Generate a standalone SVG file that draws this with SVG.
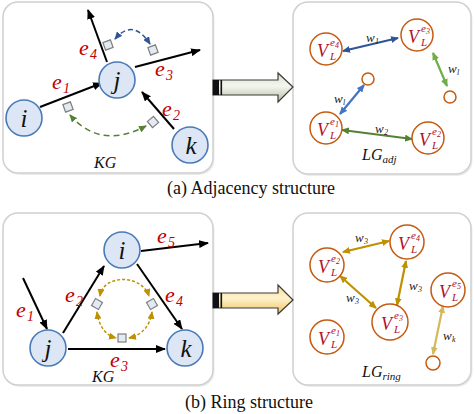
<svg xmlns="http://www.w3.org/2000/svg" width="474" height="414" viewBox="0 0 474 414">
<style>
.panel{fill:#fff;stroke:#d0d0d0;stroke-width:1.5}
.shadow{fill:#ececec;stroke:none}
.kn{fill:#dce6f4;stroke:#4a7ab8;stroke-width:1.6}
.kl{font-family:"Liberation Serif",serif;font-style:italic;font-size:25px;fill:#111;text-anchor:middle}
.edge{stroke:#000;stroke-width:2;fill:none;marker-end:url(#ab)}
.sq{fill:#e4eaf4;stroke:#7f7f7f;stroke-width:1.2}
.el{font-family:"Liberation Serif",serif;font-style:italic;font-size:22px;fill:#c00000}
.es{font-family:"Liberation Serif",serif;font-style:italic;font-size:14px;fill:#c00000}
.ln{fill:#fff;stroke:#c55a11;stroke-width:1.5}
.v{font-family:"Liberation Serif",serif;font-style:italic;font-size:18px;fill:#b0102a}
.vs{font-family:"Liberation Serif",serif;font-style:italic;font-size:11px;fill:#b0102a}
.vss{font-family:"Liberation Serif",serif;font-style:italic;font-size:8px;fill:#b0102a}
.w{font-family:"Liberation Serif",serif;font-style:italic;font-size:13px;fill:#222}
.ws{font-family:"Liberation Serif",serif;font-style:italic;font-size:8px;fill:#222}
.lab{font-family:"Liberation Serif",serif;font-style:italic;font-size:16px;fill:#111}
.cap{font-family:"Liberation Serif",serif;font-size:18px;fill:#111;text-anchor:middle}
.bigarrow{stroke:#3a3a3a;stroke-width:1.2}
</style>
<defs>
<marker id="ab" markerWidth="10" markerHeight="8" refX="9" refY="4" orient="auto" markerUnits="userSpaceOnUse"><path d="M0,0 L10,4 L0,8 Z" fill="#000"/></marker>
<marker id="mb1" markerWidth="8" markerHeight="7" refX="7" refY="3.5" orient="auto-start-reverse" markerUnits="userSpaceOnUse"><path d="M0,0 L8,3.5 L0,7 Z" fill="#2f5597"/></marker>
<marker id="mb2" markerWidth="8" markerHeight="7" refX="7" refY="3.5" orient="auto-start-reverse" markerUnits="userSpaceOnUse"><path d="M0,0 L8,3.5 L0,7 Z" fill="#4472c4"/></marker>
<marker id="mg1" markerWidth="8" markerHeight="7" refX="7" refY="3.5" orient="auto-start-reverse" markerUnits="userSpaceOnUse"><path d="M0,0 L8,3.5 L0,7 Z" fill="#548235"/></marker>
<marker id="mg2" markerWidth="8" markerHeight="7" refX="7" refY="3.5" orient="auto-start-reverse" markerUnits="userSpaceOnUse"><path d="M0,0 L8,3.5 L0,7 Z" fill="#70ad47"/></marker>
<marker id="my" markerWidth="8" markerHeight="7" refX="7" refY="3.5" orient="auto-start-reverse" markerUnits="userSpaceOnUse"><path d="M0,0 L8,3.5 L0,7 Z" fill="#bf9000"/></marker>
<marker id="my2" markerWidth="8" markerHeight="7" refX="7" refY="3.5" orient="auto-start-reverse" markerUnits="userSpaceOnUse"><path d="M0,0 L8,3.5 L0,7 Z" fill="#d4b85a"/></marker>
<linearGradient id="gg" x1="0" y1="0" x2="0" y2="1"><stop offset="0" stop-color="#d9e2cb"/><stop offset="0.45" stop-color="#f3f6ee"/><stop offset="1" stop-color="#b4c0a4"/></linearGradient>
<linearGradient id="gy" x1="0" y1="0" x2="0" y2="1"><stop offset="0" stop-color="#f8dc98"/><stop offset="0.45" stop-color="#fff2cc"/><stop offset="1" stop-color="#efc362"/></linearGradient>
</defs>

<!-- panels -->
<g id="panel-a-kg"><rect class="shadow" x="4.5" y="4" width="210" height="171" rx="15"/><rect class="panel" x="3" y="2" width="210" height="171" rx="15"/></g>
<g id="panel-a-lg"><rect class="shadow" x="294.5" y="4" width="178" height="172" rx="15"/><rect class="panel" x="293" y="2" width="178" height="172" rx="15"/></g>
<g id="panel-b-kg"><rect class="shadow" x="4.5" y="215" width="210" height="172" rx="15"/><rect class="panel" x="3" y="213" width="210" height="172" rx="15"/></g>
<g id="panel-b-lg"><rect class="shadow" x="294.5" y="215" width="178" height="172" rx="15"/><rect class="panel" x="293" y="213" width="178" height="172" rx="15"/></g>

<!-- connectors -->
<g id="connectors">
  <!-- top KG -->
  <line class="edge" x1="40" y1="107" x2="102" y2="83"/>
  <line class="edge" x1="107" y1="62" x2="88" y2="10"/>
  <line class="edge" x1="135" y1="67" x2="200" y2="50"/>
  <line class="edge" x1="174" y1="129" x2="142" y2="92"/>
  <path d="M115,39 Q133,18 150,44" fill="none" stroke="#2f5597" stroke-width="1.5" stroke-dasharray="5,3" marker-start="url(#mb1)" marker-end="url(#mb1)"/>
  <path d="M70,115 Q100,150 146,126" fill="none" stroke="#548235" stroke-width="1.5" stroke-dasharray="6,4" marker-start="url(#mg1)" marker-end="url(#mg1)"/>
  <!-- top LG -->
  <line x1="343" y1="51" x2="398" y2="38" stroke="#2f5597" stroke-width="2.2" marker-start="url(#mb1)" marker-end="url(#mb1)"/>
  <line x1="433" y1="53" x2="447" y2="86" stroke="#70ad47" stroke-width="2.2" marker-start="url(#mg2)" marker-end="url(#mg2)"/>
  <line x1="340" y1="114" x2="364" y2="85" stroke="#4472c4" stroke-width="2.2" marker-start="url(#mb2)" marker-end="url(#mb2)"/>
  <line x1="342" y1="130" x2="412" y2="139" stroke="#548235" stroke-width="2.2" marker-start="url(#mg1)" marker-end="url(#mg1)"/>
  <!-- bottom KG -->
  <line class="edge" x1="23" y1="278" x2="47" y2="329"/>
  <line class="edge" x1="63" y1="333" x2="104" y2="266"/>
  <line class="edge" x1="68" y1="349" x2="165" y2="349"/>
  <line class="edge" x1="137" y1="264" x2="182" y2="329"/>
  <line class="edge" x1="141" y1="251" x2="208" y2="243"/>
  <g fill="none" stroke="#bf9000" stroke-width="1.4" stroke-dasharray="3,2">
    <path d="M100,296 C103,274 142,274 149,296" marker-start="url(#my)" marker-end="url(#my)"/>
    <path d="M97,312 C99,326 105,335 116,338" marker-start="url(#my)" marker-end="url(#my)"/>
    <path d="M152,312 C150,326 142,335 129,338" marker-start="url(#my)" marker-end="url(#my)"/>
  </g>
  <!-- bottom LG -->
  <line x1="343" y1="252" x2="389" y2="241" stroke="#bf9000" stroke-width="2.2" marker-start="url(#my)" marker-end="url(#my)"/>
  <line x1="406" y1="261" x2="397" y2="305" stroke="#bf9000" stroke-width="2.2" marker-start="url(#my)" marker-end="url(#my)"/>
  <line x1="340" y1="276" x2="376" y2="308" stroke="#bf9000" stroke-width="2.2" marker-start="url(#my)" marker-end="url(#my)"/>
  <line x1="443" y1="306" x2="433" y2="354" stroke="#d4b85a" stroke-width="2.2" marker-start="url(#my2)" marker-end="url(#my2)"/>
</g>

<!-- squares -->
<g id="squares-a">
  <rect class="sq" x="-4" y="-4" width="8" height="8" transform="translate(108,45) rotate(-20)"/>
  <rect class="sq" x="-4" y="-4" width="8" height="8" transform="translate(153,50) rotate(-20)"/>
  <rect class="sq" x="-4" y="-4" width="8" height="8" transform="translate(68,107) rotate(-20)"/>
  <rect class="sq" x="-4" y="-4" width="8" height="8" transform="translate(153,122) rotate(-40)"/>
</g>
<g id="squares-b">
  <rect class="sq" x="-4" y="-4" width="8" height="8" transform="translate(97,304) rotate(30)"/>
  <rect class="sq" x="-4" y="-4" width="8" height="8" transform="translate(152,304) rotate(-30)"/>
  <rect class="sq" x="-4" y="-4" width="8" height="8" transform="translate(122,338)"/>
</g>

<!-- top KG nodes -->
<g id="node-a-i"><circle class="kn" cx="24" cy="118" r="18"/><text class="kl" x="24" y="127">i</text></g>
<g id="node-a-j"><circle class="kn" cx="117" cy="80" r="18"/><text class="kl" x="117" y="89">j</text></g>
<g id="node-a-k"><circle class="kn" cx="190" cy="145" r="18"/><text class="kl" x="191" y="154">k</text></g>

<g id="labels-a">
  <text class="el" x="52" y="89">e</text><text class="es" x="63" y="93">1</text>
  <text class="el" x="79" y="55">e</text><text class="es" x="90" y="59">4</text>
  <text class="el" x="155" y="76">e</text><text class="es" x="166" y="80">3</text>
  <text class="el" x="162" y="116">e</text><text class="es" x="173" y="120">2</text>
  <text class="lab" x="94" y="168">KG</text>
</g>

<!-- top LG nodes -->
<g id="lg-a-e4"><circle class="ln" cx="326" cy="49" r="16"/><text class="v" x="317" y="57">V</text><text class="vs" x="330" y="60">L</text><text class="vs" x="330" y="46">e</text><text class="vss" x="335" y="48">4</text></g>
<g id="lg-a-e3"><circle class="ln" cx="417" cy="35" r="16"/><text class="v" x="408" y="43">V</text><text class="vs" x="421" y="46">L</text><text class="vs" x="421" y="32">e</text><text class="vss" x="426" y="34">3</text></g>
<g id="lg-a-s1"><circle class="ln" cx="368" cy="79" r="6"/></g>
<g id="lg-a-s2"><circle class="ln" cx="450" cy="97" r="6"/></g>
<g id="lg-a-e1"><circle class="ln" cx="326" cy="128" r="16"/><text class="v" x="317" y="136">V</text><text class="vs" x="330" y="139">L</text><text class="vs" x="330" y="125">e</text><text class="vss" x="335" y="127">1</text></g>
<g id="lg-a-e2"><circle class="ln" cx="428" cy="138" r="16"/><text class="v" x="419" y="146">V</text><text class="vs" x="432" y="149">L</text><text class="vs" x="432" y="135">e</text><text class="vss" x="437" y="137">2</text></g>
<g id="wlabels-a">
  <text class="w" x="366" y="42">w</text><text class="ws" x="375" y="44">1</text>
  <text class="w" x="448" y="73">w</text><text class="ws" x="457" y="75">l</text>
  <text class="w" x="334" y="103">w</text><text class="ws" x="343" y="105">l</text>
  <text class="w" x="375" y="133">w</text><text class="ws" x="384" y="135">2</text>
  <text class="lab" x="362" y="160">LG<tspan dy="3" style="font-size:11px">adj</tspan></text>
</g>

<!-- bottom KG nodes -->
<g id="node-b-i"><circle class="kn" cx="122" cy="250" r="18"/><text class="kl" x="122" y="259">i</text></g>
<g id="node-b-j"><circle class="kn" cx="48" cy="348" r="18"/><text class="kl" x="48" y="357">j</text></g>
<g id="node-b-k"><circle class="kn" cx="185" cy="348" r="18"/><text class="kl" x="186" y="357">k</text></g>
<g id="labels-b">
  <text class="el" x="16" y="317">e</text><text class="es" x="27" y="321">1</text>
  <text class="el" x="65" y="302">e</text><text class="es" x="76" y="306">2</text>
  <text class="el" x="110" y="367">e</text><text class="es" x="121" y="371">3</text>
  <text class="el" x="165" y="302">e</text><text class="es" x="176" y="306">4</text>
  <text class="el" x="157" y="243">e</text><text class="es" x="168" y="247">5</text>
  <text class="lab" x="92" y="382">KG</text>
</g>

<!-- bottom LG nodes -->
<g id="lg-b-e4"><circle class="ln" cx="407" cy="242" r="17"/><text class="v" x="398" y="250">V</text><text class="vs" x="411" y="253">L</text><text class="vs" x="411" y="239">e</text><text class="vss" x="416" y="241">4</text></g>
<g id="lg-b-e2"><circle class="ln" cx="327" cy="265" r="17"/><text class="v" x="318" y="273">V</text><text class="vs" x="331" y="276">L</text><text class="vs" x="331" y="262">e</text><text class="vss" x="336" y="264">2</text></g>
<g id="lg-b-e5"><circle class="ln" cx="448" cy="290" r="17"/><text class="v" x="439" y="298">V</text><text class="vs" x="452" y="301">L</text><text class="vs" x="452" y="287">e</text><text class="vss" x="457" y="289">5</text></g>
<g id="lg-b-e3"><circle class="ln" cx="390" cy="322" r="18"/><text class="v" x="381" y="330">V</text><text class="vs" x="394" y="333">L</text><text class="vs" x="394" y="319">e</text><text class="vss" x="399" y="321">3</text></g>
<g id="lg-b-e1"><circle class="ln" cx="327" cy="337" r="17"/><text class="v" x="318" y="345">V</text><text class="vs" x="331" y="348">L</text><text class="vs" x="331" y="334">e</text><text class="vss" x="336" y="336">1</text></g>
<g id="lg-b-s"><circle class="ln" cx="433" cy="363" r="7"/></g>
<g id="wlabels-b">
  <text class="w" x="355" y="242">w</text><text class="ws" x="364" y="244">3</text>
  <text class="w" x="409" y="290">w</text><text class="ws" x="418" y="292">3</text>
  <text class="w" x="346" y="302">w</text><text class="ws" x="355" y="304">3</text>
  <text class="w" x="443" y="340">w</text><text class="ws" x="452" y="342">k</text>
  <text class="lab" x="362" y="377">LG<tspan dy="3" style="font-size:11px">ring</tspan></text>
</g>

<!-- big arrows -->
<g id="arrow-a">
  <path class="bigarrow" d="M213,80 L278,80 L278,73 L293,87 L278,102 L278,95 L213,95 Z" fill="url(#gg)"/>
  <rect x="213" y="80" width="6" height="15" fill="#111"/>
  <rect x="220.5" y="80" width="1.6" height="15" fill="#111"/>
</g>
<g id="arrow-b">
  <path class="bigarrow" d="M213,293 L278,293 L278,285 L293,300 L278,314 L278,308 L213,308 Z" fill="url(#gy)"/>
  <rect x="213" y="293" width="6" height="15" fill="#111"/>
  <rect x="220.5" y="293" width="1.6" height="15" fill="#111"/>
</g>

<g id="captions">
  <text class="cap" x="251" y="194">(a) Adjacency structure</text>
  <text class="cap" x="249" y="408">(b) Ring structure</text>
</g>
</svg>
